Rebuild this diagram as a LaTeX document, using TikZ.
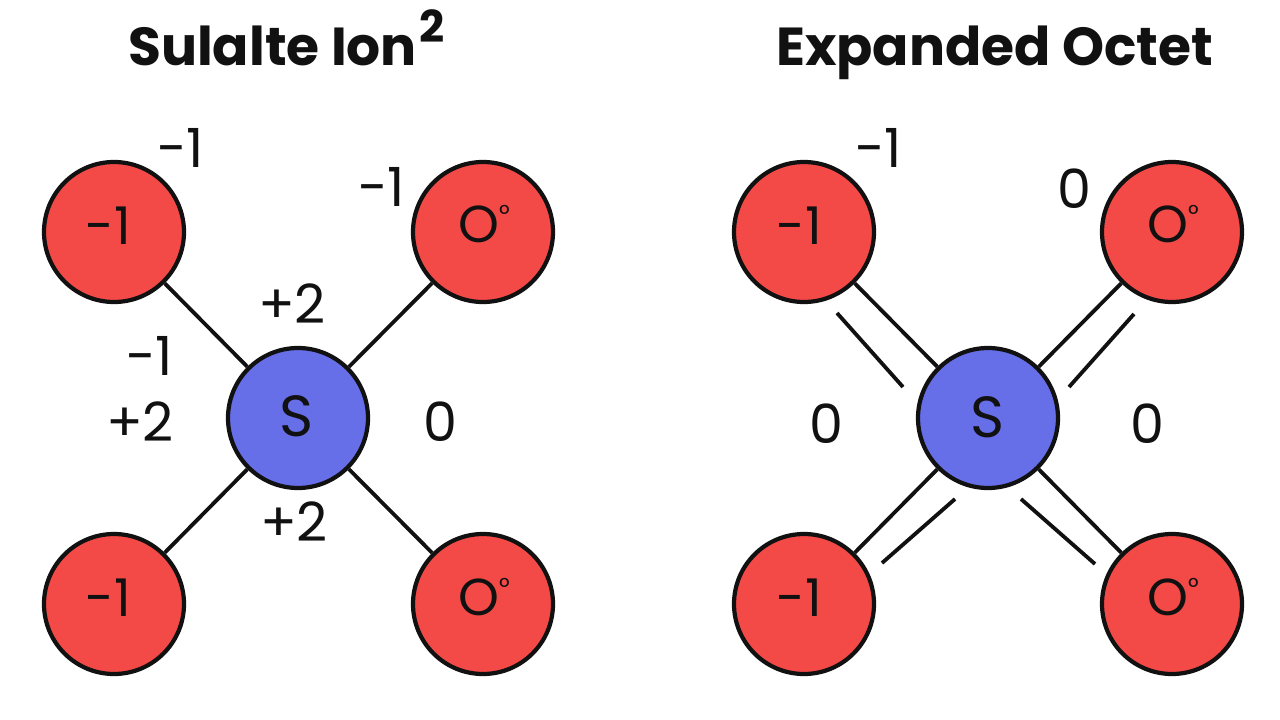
\documentclass[tikz,border=0pt]{standalone}
\usepackage{fontspec}
\setmainfont{Poppins}
\definecolor{oxy}{HTML}{F44A47}
\definecolor{sul}{HTML}{666EE8}
\definecolor{ink}{HTML}{111111}
\tikzset{
  atom/.style={circle,draw=ink,line width=4.2pt,minimum size=140pt,inner sep=0pt},
  oatom/.style={atom,fill=oxy},
  satom/.style={atom,fill=sul},
  bond/.style={draw=ink,line width=3.8pt},
  charge/.style={inner sep=0pt,text=ink,font=\fontsize{54}{54}\selectfont},
  heading/.style={inner sep=0pt,anchor=base west,text=ink,font=\fontsize{53.5}{54}\selectfont\bfseries},
  inlabel/.style={inner sep=0pt,text=ink,font=\fontsize{52}{52}\selectfont},
  sulabel/.style={inner sep=0pt,text=ink,font=\fontsize{58}{58}\selectfont}
}
\newcommand{\oxdeg}{O\raisebox{0.38em}{\fontsize{26}{26}\selectfont°}}
\begin{document}
\begin{tikzpicture}[x=1pt,y=-1pt]
\useasboundingbox (0,0) rectangle (1280,720);
\fill[white] (0,0) rectangle (1280,720);
\node[heading] (t1) at (128,65) {Sulalte Ion\raisebox{23pt}{\kern 3pt\fontsize{44}{44}\selectfont\bfseries 2}};
\node[heading] (t2) at (776,65) {Expanded Octet};
% left molecule
\node[satom] (s1) at (298,418) {};
\node[oatom] (a) at (114,232) {};
\node[oatom] (b) at (483,232) {};
\node[oatom] (c) at (114,604) {};
\node[oatom] (d) at (483,604) {};
\draw[bond] (a) -- (s1);
\draw[bond] (b) -- (s1);
\draw[bond] (c) -- (s1);
\draw[bond] (d) -- (s1);
\node[sulabel] (s1l) at (297,416) {S};
\node[inlabel] (al) at (108,226) {-1};
\node[inlabel] (bl) at (484,224) {\oxdeg};
\node[inlabel] (cl) at (108,598) {-1};
\node[inlabel] (dl) at (484,597) {\oxdeg};
\node[charge] (q1) at (180,148) {−1};
\node[charge] (q2) at (381,187) {−1};
\node[charge] (q3) at (292,304) {+2};
\node[charge] (q4) at (149,356) {−1};
\node[charge] (q5) at (140,422) {+2};
\node[charge] (q6) at (440,422) {0};
\node[charge] (q7) at (294,522) {+2};
% right molecule
\node[satom] (s2) at (988,418) {};
\node[oatom] (e) at (804,232) {};
\node[oatom] (f) at (1172,232) {};
\node[oatom] (g) at (804,604) {};
\node[oatom] (h) at (1172,604) {};
\draw[bond] (e) -- (s2);
\draw[bond] (f) -- (s2);
\draw[bond] (g) -- (s2);
\draw[bond] (h) -- (s2);
\coordinate (e1) at (837,313); \coordinate (e2) at (903,387);
\coordinate (f1) at (1134,314); \coordinate (f2) at (1069,387);
\coordinate (g1) at (882,563); \coordinate (g2) at (955,499);
\coordinate (h1) at (1095,564); \coordinate (h2) at (1021,499);
\draw[bond] (e1) -- (e2);
\draw[bond] (f1) -- (f2);
\draw[bond] (g1) -- (g2);
\draw[bond] (h1) -- (h2);
\node[sulabel] (s2l) at (988,417) {S};
\node[inlabel] (el) at (799,226) {-1};
\node[inlabel] (fl) at (1173,224) {\oxdeg};
\node[inlabel] (gl) at (799,598) {-1};
\node[inlabel] (hl) at (1173,597) {\oxdeg};
\node[charge] (r1) at (878,148) {−1};
\node[charge] (r2) at (1074,189) {0};
\node[charge] (r3) at (826,424) {0};
\node[charge] (r4) at (1147,424) {0};
\end{tikzpicture}
\end{document}
